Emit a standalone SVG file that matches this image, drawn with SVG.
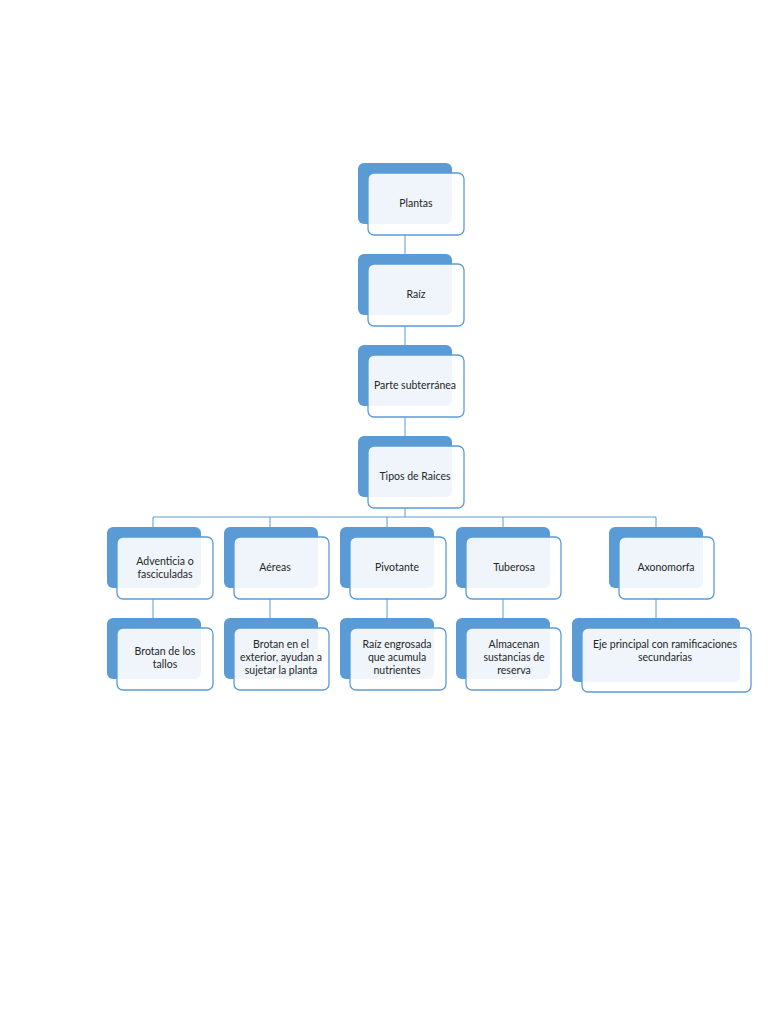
<svg xmlns="http://www.w3.org/2000/svg" width="768" height="1024" viewBox="0 0 768 1024">
<style>
.bk{fill:#5B9BD5}
.fr{fill:#ffffff;fill-opacity:0.9;stroke:#5B9BD5;stroke-width:1.3}
.t{font-family:Lato,"Open Sans","Liberation Sans",sans-serif;font-size:10.5px;fill:#262626;text-anchor:middle}
.c{stroke:#5B9BD5;stroke-width:1;fill:none}
</style>
<rect width="768" height="1024" fill="#fff"/>
<g id="connectors">
<path class="c" d="M405 235V264M405 326V355M405 417V446M405 508V517M153 517H656M153 517V537M270 517V537M387 517V537M503 517V537M656 517V537"/>
<path class="c" d="M153 598V618M270 598V618M387 598V618M503 598V618M656 598V618"/>
</g>
<g id="n-plantas"><rect class="bk" x="358" y="163" width="94" height="61" rx="6"/><rect class="fr" x="368" y="173" width="96" height="62" rx="6"/><text class="t" x="416" y="207">Plantas</text></g>
<g id="n-raiz"><rect class="bk" x="358" y="254" width="94" height="61" rx="6"/><rect class="fr" x="368" y="264" width="96" height="62" rx="6"/><text class="t" x="416" y="298">Raíz</text></g>
<g id="n-parte"><rect class="bk" x="358" y="345" width="94" height="61" rx="6"/><rect class="fr" x="368" y="355" width="96" height="62" rx="6"/><text class="t" x="415" y="389">Parte subterránea</text></g>
<g id="n-tipos"><rect class="bk" x="358" y="436" width="94" height="61" rx="6"/><rect class="fr" x="368" y="446" width="96" height="62" rx="6"/><text class="t" x="415" y="480">Tipos de Raices</text></g>

<g id="n-adventicia"><rect class="bk" x="107" y="527" width="94" height="61" rx="6"/><rect class="fr" x="117" y="537" width="96" height="62" rx="6"/><text class="t" x="165" y="565">Adventicia o</text><text class="t" x="165" y="578">fasciculadas</text></g>
<g id="n-aereas"><rect class="bk" x="224" y="527" width="94" height="61" rx="6"/><rect class="fr" x="234" y="537" width="95" height="62" rx="6"/><text class="t" x="275" y="571">Aéreas</text></g>
<g id="n-pivotante"><rect class="bk" x="340" y="527" width="94" height="61" rx="6"/><rect class="fr" x="350" y="537" width="96" height="62" rx="6"/><text class="t" x="397" y="571">Pivotante</text></g>
<g id="n-tuberosa"><rect class="bk" x="456" y="527" width="94" height="61" rx="6"/><rect class="fr" x="466" y="537" width="95" height="62" rx="6"/><text class="t" x="514" y="571">Tuberosa</text></g>
<g id="n-axonomorfa"><rect class="bk" x="609" y="527" width="94" height="61" rx="6"/><rect class="fr" x="619" y="537" width="95" height="62" rx="6"/><text class="t" x="666" y="571">Axonomorfa</text></g>

<g id="n-brotan-tallos"><rect class="bk" x="107" y="618" width="94" height="61" rx="6"/><rect class="fr" x="117" y="628" width="96" height="62" rx="6"/><text class="t" x="165" y="655">Brotan de los</text><text class="t" x="165" y="668">tallos</text></g>
<g id="n-brotan-exterior"><rect class="bk" x="224" y="618" width="94" height="61" rx="6"/><rect class="fr" x="234" y="628" width="95" height="62" rx="6"/><text class="t" x="281" y="648">Brotan en el</text><text class="t" x="281" y="661">exterior, ayudan a</text><text class="t" x="281" y="674">sujetar la planta</text></g>
<g id="n-raiz-engrosada"><rect class="bk" x="340" y="618" width="94" height="61" rx="6"/><rect class="fr" x="350" y="628" width="96" height="62" rx="6"/><text class="t" x="397" y="648">Raíz engrosada</text><text class="t" x="397" y="661">que acumula</text><text class="t" x="397" y="674">nutrientes</text></g>
<g id="n-almacenan"><rect class="bk" x="456" y="618" width="94" height="61" rx="6"/><rect class="fr" x="466" y="628" width="95" height="62" rx="6"/><text class="t" x="514" y="648">Almacenan</text><text class="t" x="514" y="661">sustancias de</text><text class="t" x="514" y="674">reserva</text></g>
<g id="n-eje"><rect class="bk" x="572" y="618" width="168" height="64" rx="6"/><rect class="fr" x="582" y="628" width="169" height="64" rx="6"/><text class="t" x="665" y="648">Eje principal con ramificaciones</text><text class="t" x="665" y="661">secundarias</text></g>
</svg>
